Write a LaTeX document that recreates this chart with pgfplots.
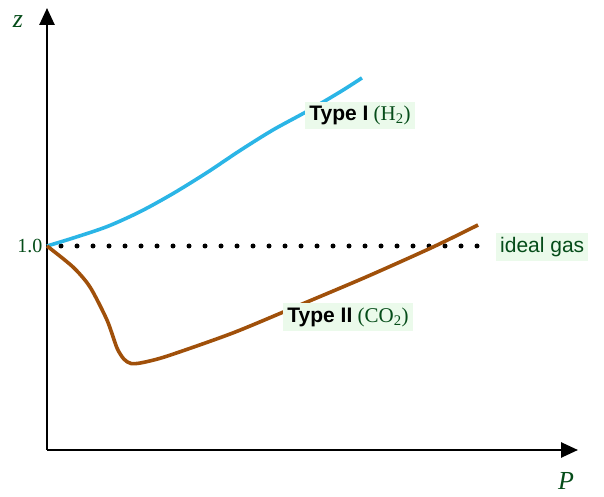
\documentclass[border=0pt]{standalone}
\usepackage{pgfplots}
\pgfplotsset{compat=1.18}
\usepackage{fontspec}
\setmainfont{Liberation Serif}
\setsansfont{Liberation Sans}
\usetikzlibrary{arrows.meta}
\definecolor{htwo}{HTML}{2BB5E6}
\definecolor{cotwo}{HTML}{A0500A}
\definecolor{txtg}{rgb}{0.02,0.30,0.10}
\definecolor{boxg}{rgb}{0.92,0.98,0.92}
\begin{document}
\begin{tikzpicture}
\begin{axis}[
  scale only axis,
  width=531pt, height=442pt,
  xmin=0, xmax=5.31, ymin=0, ymax=2.1667,
  axis lines=left,
  axis line style={line width=2.6pt, -{Stealth[length=17pt,width=15pt,inset=0pt]}},
  xtick=\empty,
  ytick={1}, yticklabels={1.0},
  major tick length=0pt,
  yticklabel style={font=\fontsize{20}{22}\selectfont, text=txtg, xshift=-1pt},
  clip=false,
]
\addplot[black, line width=5pt, line cap=round, dash pattern=on 0pt off 16pt] coordinates {(0.14,1) (4.46,1)};
\addplot[htwo, line width=3.6pt, smooth, tension=0.5] coordinates {
(0,1) (0.26,1.039) (0.60,1.095) (0.93,1.168) (1.26,1.257) (1.60,1.360)
(1.93,1.468) (2.26,1.569) (2.60,1.660) (2.93,1.755) (3.15,1.824)};
\addplot[cotwo, line width=3.6pt, smooth, tension=0.45] coordinates {
(0,1) (0.26,0.897) (0.43,0.799) (0.60,0.637) (0.70,0.500) (0.77,0.445)
(0.84,0.424) (0.95,0.428) (1.20,0.460) (1.86,0.574) (2.53,0.711) (3.20,0.850) (3.86,0.995) (4.31,1.103)};
\node[fill=boxg, inner sep=4pt, text=black, font=\fontsize{21}{23}\selectfont] at (axis cs:3.13,1.642)
  {\textsf{\textbf{Type I}} {\color{txtg}(H\textsubscript{2})}};
\node[fill=boxg, inner sep=4pt, text=black, font=\fontsize{21}{23}\selectfont] at (axis cs:3.01,0.652)
  {\textsf{\textbf{Type II}} {\color{txtg}(CO\textsubscript{2})}};
\node[fill=boxg, inner sep=4pt, anchor=west, text=txtg, font=\sffamily\fontsize{21}{23}\selectfont] at (axis cs:4.49,0.995) {ideal gas};
\node[text=txtg, font=\itshape\fontsize{26}{28}\selectfont] at (axis cs:-0.29,2.098) {z};
\node[text=txtg, font=\itshape\fontsize{26}{28}\selectfont] at (axis cs:5.19,-0.152) {P};
\end{axis}
\pgfresetboundingbox
\useasboundingbox (-47pt,-47pt) rectangle (557pt,450pt);
\end{tikzpicture}
\end{document}
